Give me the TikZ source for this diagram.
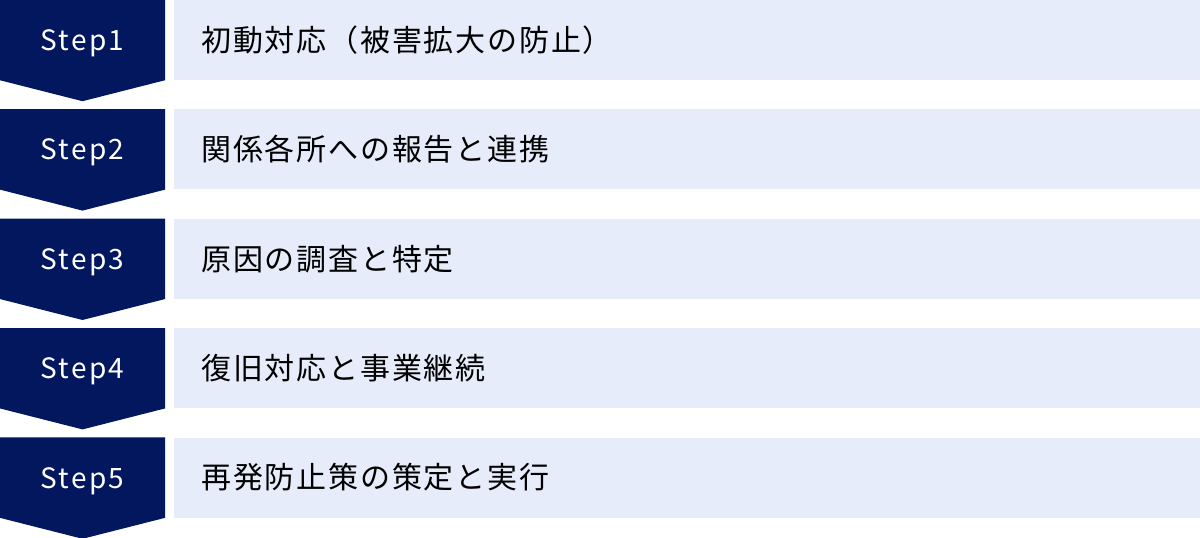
\documentclass[tikz,border=0pt]{standalone}
\usepackage{fontspec}
\setmainfont{Noto Sans CJK JP}
\newfontfamily\stepfont[LetterSpace=8]{Noto Sans CJK JP}
\newfontfamily\itemfont[LetterSpace=6]{Noto Sans CJK JP}
\usetikzlibrary{positioning, backgrounds}
\definecolor{stepnavy}{HTML}{03175F}
\definecolor{steplight}{HTML}{E6ECF9}
\tikzset{
    stepbox/.style={text=white, minimum width=165pt, minimum height=80pt, inner sep=0pt, text depth=0pt, font=\stepfont\fontsize{28}{30}\selectfont},
    textbox/.style={fill=steplight, minimum height=80pt, text width=972pt, inner xsep=27pt, inner ysep=0pt, align=left, font=\itemfont\fontsize{30}{36}\selectfont},
    stepdown/.style={fill=stepnavy}
}
\begin{document}
\begin{tikzpicture}
        \useasboundingbox (0,0) rectangle (1200pt,-538pt);
        \node[stepbox] (s1) at (82.5pt,-40pt) {Step1};
        \node[stepbox, below=29pt of s1] (s2) {Step2};
        \node[stepbox, below=29pt of s2] (s3) {Step3};
        \node[stepbox, below=29pt of s3] (s4) {Step4};
        \node[stepbox, below=29pt of s4] (s5) {Step5};
        %---------------------------
        \node[textbox, right=9pt of s1] (t1) {初動対応（被害拡大の防止）};
        \node[textbox, right=9pt of s2] (t2) {関係各所への報告と連携};
        \node[textbox, right=9pt of s3] (t3) {原因の調査と特定};
        \node[textbox, right=9pt of s4] (t4) {復旧対応と事業継続};
        \node[textbox, right=9pt of s5] (t5) {再発防止策の策定と実行};
        %---------------------------
        \begin{scope}[on background layer]
        \fill[stepdown] (s1.north west) -- (s1.north east) -- (s1.south east) -- ([yshift=-21pt]s1.south) -- (s1.south west) -- cycle;
        \fill[stepdown] (s2.north west) -- (s2.north east) -- (s2.south east) -- ([yshift=-21pt]s2.south) -- (s2.south west) -- cycle;
        \fill[stepdown] (s3.north west) -- (s3.north east) -- (s3.south east) -- ([yshift=-21pt]s3.south) -- (s3.south west) -- cycle;
        \fill[stepdown] (s4.north west) -- (s4.north east) -- (s4.south east) -- ([yshift=-21pt]s4.south) -- (s4.south west) -- cycle;
        \fill[stepdown] (s5.north west) -- (s5.north east) -- (s5.south east) -- ([yshift=-21pt]s5.south) -- (s5.south west) -- cycle;
        \end{scope}
\end{tikzpicture}
\end{document}
